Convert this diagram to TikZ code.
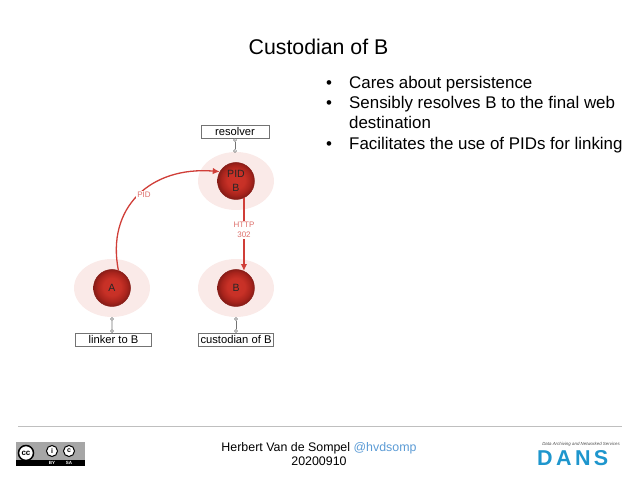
\documentclass[tikz,border=0pt]{standalone}
\usepackage{fontspec}
\setmainfont{Liberation Sans}
\usetikzlibrary{positioning,shapes.geometric,arrows.meta}

\definecolor{halo}{RGB}{250,234,232}
\definecolor{balledge}{RGB}{135,28,22}
\definecolor{arrowred}{RGB}{208,62,56}
\definecolor{labelred}{RGB}{222,112,108}
\definecolor{linkblue}{RGB}{91,155,213}
\definecolor{dansblue}{RGB}{30,150,205}

\pgfdeclareradialshading{redball}{\pgfpoint{0bp}{2bp}}{
  rgb(0bp)=(0.80,0.20,0.16);
  rgb(12bp)=(0.78,0.19,0.15);
  rgb(20bp)=(0.66,0.14,0.11);
  rgb(25bp)=(0.53,0.11,0.09);
  rgb(50bp)=(0.53,0.11,0.09)}

\tikzset{
  halonode/.style={draw=none,fill=halo,ellipse,minimum width=76pt,minimum height=58pt},
  ballnode/.style={circle,draw=balledge,line width=0.5pt,shading=redball,minimum size=37pt,inner sep=0pt,
    align=center,font=\fontsize{10.5}{14}\selectfont,text=black!85},
  rolebox/.style={draw=black!55,fill=white,line width=0.7pt,minimum height=13pt,inner sep=0pt,
    font=\fontsize{11.2}{11.2}\selectfont},
  pin/.style={circle,draw=black!55,fill=white,line width=0.5pt,minimum size=3.2pt,inner sep=0pt},
  pinline/.style={draw=black!55,line width=0.6pt},
  redarrow/.style={draw=arrowred,line width=1.3pt,-{Latex[length=7pt,width=6.5pt]}},
  redlabel/.style={fill=white,inner sep=1.2pt,align=center,text=labelred,
    font=\fontsize{8}{10.5}\selectfont},
  badgering/.style={circle,draw=black,fill=white,inner sep=0pt,font=\bfseries\fontsize{7}{7}\selectfont},
  badgetext/.style={text=white,inner sep=0pt,font=\bfseries\fontsize{4.5}{5}\selectfont}
}

\begin{document}
\begin{tikzpicture}[x=1pt,y=-1pt]
\useasboundingbox (0,0) rectangle (638,478);

% halos
\node[halonode] (haloPid) at (236,181) {};
\node[halonode] (haloA) at (112,288) {};
\node[halonode] (haloB) at (236,288) {};

% balls
\node[ballnode] (pid) at (236,181) {PID\\B};
\node[ballnode] (a) at (112,288) {A};
\node[ballnode] (b) at (236,288) {B};

% role boxes
\node[rolebox,minimum width=68pt] (resolver) at (235,131.5) {resolver};
\node[rolebox,minimum width=76pt] (linker) at (113.5,339.5) {linker to B};
\node[rolebox,minimum width=75pt] (custodian) at (236,339.5) {custodian of B};

% pins
\node[pin] (pinR) at (235,151) {};
\node[pin] (pinRtop) at (235,140) {};
\node[pin] (pinA) at (112,319) {};
\node[pin] (pinAlow) at (112,331) {};
\node[pin] (pinB) at (236,319) {};
\node[pin] (pinBlow) at (236,331) {};
\draw[pinline] (resolver) -- (pinRtop) -- (pinR);
\draw[pinline] (pinA) -- (pinAlow) -- (linker);
\draw[pinline] (pinB) -- (pinBlow) -- (custodian);

% arrows
\draw[redarrow] (a.70) .. controls (106,208) and (150,166) .. (pid.150);
\draw[redarrow] (pid.-65) -- (b.65);
\node[redlabel] (pidLabel) at (144,194.5) {PID};
\node[redlabel] (httpLabel) at (244,230) {HTTP\\302};

% title and bullets
\node[anchor=base,font=\fontsize{21.3}{24}\selectfont] (title) at (318.5,55) {Custodian of B};
\begin{scope}[every node/.style={anchor=base west,font=\fontsize{16.9}{20}\selectfont,inner sep=0pt}]
\node (dotA) at (326,88.5) {•};
\node (lineA) at (349,88.5) {Cares about persistence};
\node (dotB) at (326,109) {•};
\node (lineB) at (349,109) {Sensibly resolves B to the final web};
\node (lineBb) at (349,129) {destination};
\node (dotC) at (326,149.5) {•};
\node (lineC) at (349,149.5) {Facilitates the use of PIDs for linking};
\end{scope}

% footer
\draw[black!25,line width=0.8pt] (18,426) -- (622,426);
\node[anchor=base,font=\fontsize{12.4}{15}\selectfont] (credit) at (319,452) {Herbert Van de Sompel \textcolor{linkblue}{@hvdsomp}};
\node[anchor=base,font=\fontsize{12.4}{15}\selectfont] (date) at (319,466) {20200910};

% cc badge
\fill[black!35] (16,442) rectangle (85,466);
\fill[black] (16,460) rectangle (85,466);
\node[badgering,line width=1.5pt,minimum size=15pt,font=\bfseries\fontsize{8}{8}\selectfont] (cc) at (26,453) {cc};
\node[badgering,line width=1pt,minimum size=11pt] (by) at (52,451) {i};
\node[badgering,line width=1pt,minimum size=11pt] (sa) at (69,451) {c};
\node[badgetext] (byText) at (52,463) {BY};
\node[badgetext] (saText) at (69,463) {SA};

% dans logo
\node[anchor=base east,inner sep=0pt,font=\itshape\fontsize{4.4}{5}\selectfont,text=black!70] (dansTag) at (620,445.5) {Data Archiving and Networked Services};
\node[anchor=base west,inner sep=0pt,text=dansblue,font=\bfseries\fontsize{21.5}{24}\selectfont] (dansName) at (537,465.5) {D\hspace{3.4pt}A\hspace{3.4pt}N\hspace{3.4pt}S};
\end{tikzpicture}
\end{document}
